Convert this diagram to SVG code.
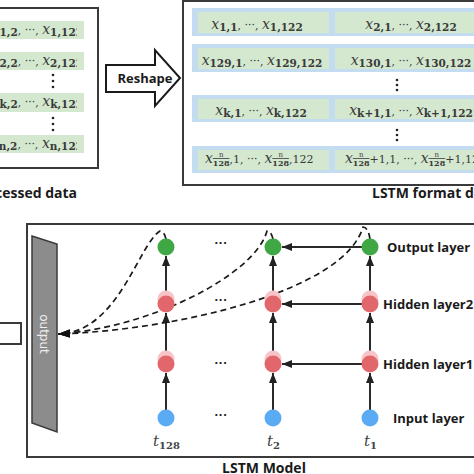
<svg xmlns="http://www.w3.org/2000/svg" width="474" height="474" viewBox="0 0 474 474">
<style>
.frame{fill:none;stroke:#3a3a3a;stroke-width:2}
.bl{fill:#c3dcef}
.gr{fill:#d3e8cf}
.m{font-family:"DejaVu Serif","Liberation Serif",serif;font-size:11px;fill:#3a3a3a}
.v{font-style:italic;font-size:14px}
.s{font-weight:bold;font-size:10.5px}
.fn{font-size:7px}
.fd{font-size:8px;font-weight:bold;text-decoration:overline}
.cap{font-family:"Open Sans","Noto Sans",sans-serif;font-weight:700;font-size:14px;fill:#1a1a1a}
.lab{font-family:"Open Sans","Noto Sans",sans-serif;font-weight:700;font-size:13px;fill:#1a1a1a}
.t{font-family:"DejaVu Serif","Liberation Serif",serif;fill:#444}
.dot{fill:#222}
.ell{font-family:"Liberation Sans",sans-serif;font-weight:bold;font-size:13px;fill:#222}
.ar{stroke:#2a2a2a;stroke-width:2;fill:none}
.da{stroke:#1a1a1a;stroke-width:1.7;fill:none;stroke-dasharray:6 4}
.g{fill:#3fa744}
.r{fill:#e2676d}
.p{fill:#f7c4c8}
.b{fill:#5aabf3}
</style>
<defs>
<marker id="ah" markerUnits="userSpaceOnUse" markerWidth="10" markerHeight="10" refX="10" refY="4" orient="auto">
<path d="M0,0 L10,4 L0,8 z" fill="#222"/>
</marker>
<marker id="ahd" markerUnits="userSpaceOnUse" markerWidth="12" markerHeight="10" refX="12" refY="4" orient="auto">
<path d="M0,0 L12,4 L0,8 z" fill="#111"/>
</marker>
<clipPath id="cl"><rect x="0" y="0" width="77" height="200"/></clipPath>
<clipPath id="c1"><rect x="198" y="0" width="126" height="200"/></clipPath>
<clipPath id="c2"><rect x="335" y="0" width="139" height="200"/></clipPath>
</defs>

<!-- Processed data box -->
<g id="processed">
<rect class="frame" x="-10" y="8" width="108" height="160"/>
<rect class="gr" x="0" y="21" width="84" height="18"/>
<rect class="gr" x="0" y="52" width="84" height="18"/>
<rect class="gr" x="0" y="93" width="84" height="19"/>
<rect class="gr" x="0" y="135" width="84" height="18"/>
<g clip-path="url(#cl)">
<text class="m" x="83" y="34" text-anchor="end"><tspan class="v">x</tspan><tspan class="s" dy="2">1,1</tspan><tspan dy="-2">, </tspan><tspan class="v">x</tspan><tspan class="s" dy="2">1,2</tspan><tspan dy="-2">, ···, </tspan><tspan class="v">x</tspan><tspan class="s" dy="2">1,122</tspan></text>
<text class="m" x="83" y="65" text-anchor="end"><tspan class="v">x</tspan><tspan class="s" dy="2">2,1</tspan><tspan dy="-2">, </tspan><tspan class="v">x</tspan><tspan class="s" dy="2">2,2</tspan><tspan dy="-2">, ···, </tspan><tspan class="v">x</tspan><tspan class="s" dy="2">2,122</tspan></text>
<text class="m" x="83" y="106" text-anchor="end"><tspan class="v">x</tspan><tspan class="s" dy="2">k,1</tspan><tspan dy="-2">, </tspan><tspan class="v">x</tspan><tspan class="s" dy="2">k,2</tspan><tspan dy="-2">, ···, </tspan><tspan class="v">x</tspan><tspan class="s" dy="2">k,122</tspan></text>
<text class="m" x="83" y="148" text-anchor="end"><tspan class="v">x</tspan><tspan class="s" dy="2">n,1</tspan><tspan dy="-2">, </tspan><tspan class="v">x</tspan><tspan class="s" dy="2">n,2</tspan><tspan dy="-2">, ···, </tspan><tspan class="v">x</tspan><tspan class="s" dy="2">n,122</tspan></text>
</g>
<circle class="dot" cx="53" cy="75" r="1.3"/><circle class="dot" cx="53" cy="81" r="1.3"/><circle class="dot" cx="53" cy="87" r="1.3"/>
<circle class="dot" cx="53" cy="118" r="1.3"/><circle class="dot" cx="53" cy="124" r="1.3"/><circle class="dot" cx="53" cy="130" r="1.3"/>
<text class="cap" x="77" y="198" text-anchor="end">Processed data</text>
</g>

<!-- Reshape arrow -->
<g id="reshape">
<polygon points="106,65 155,65 155,50 180,78 155,106 155,92 106,92" fill="#fff" stroke="#1a1a1a" stroke-width="2" stroke-linejoin="miter"/>
<text class="lab" x="145" y="83" text-anchor="middle">Reshape</text>
</g>

<!-- LSTM format data box -->
<g id="lstmformat">
<rect class="frame" x="183" y="1" width="300" height="184"/>
<rect class="bl" x="192" y="8" width="290" height="28"/>
<rect class="bl" x="192" y="44" width="290" height="28"/>
<rect class="bl" x="192" y="95" width="290" height="27"/>
<rect class="bl" x="192" y="146" width="290" height="27"/>
<rect class="gr" x="198" y="12" width="131" height="21"/><rect class="gr" x="335" y="12" width="139" height="21"/>
<rect class="gr" x="198" y="48" width="131" height="21"/><rect class="gr" x="335" y="48" width="139" height="21"/>
<rect class="gr" x="198" y="99" width="131" height="20"/><rect class="gr" x="335" y="99" width="139" height="20"/>
<rect class="gr" x="198" y="150" width="131" height="20"/><rect class="gr" x="335" y="150" width="139" height="20"/>
<text class="m" x="257" y="29" text-anchor="middle"><tspan class="v">x</tspan><tspan class="s" dy="2">1,1</tspan><tspan dy="-2">, ···, </tspan><tspan class="v">x</tspan><tspan class="s" dy="2">1,122</tspan></text>
<text class="m" x="411" y="29" text-anchor="middle"><tspan class="v">x</tspan><tspan class="s" dy="2">2,1</tspan><tspan dy="-2">, ···, </tspan><tspan class="v">x</tspan><tspan class="s" dy="2">2,122</tspan></text>
<text class="m" x="262" y="65" text-anchor="middle"><tspan class="v">x</tspan><tspan class="s" dy="2">129,1</tspan><tspan dy="-2">, ···, </tspan><tspan class="v">x</tspan><tspan class="s" dy="2">129,122</tspan></text>
<text class="m" x="411" y="65" text-anchor="middle"><tspan class="v">x</tspan><tspan class="s" dy="2">130,1</tspan><tspan dy="-2">, ···, </tspan><tspan class="v">x</tspan><tspan class="s" dy="2">130,122</tspan></text>
<text class="m" x="261" y="115" text-anchor="middle"><tspan class="v">x</tspan><tspan class="s" dy="2">k,1</tspan><tspan dy="-2">, ···, </tspan><tspan class="v">x</tspan><tspan class="s" dy="2">k,122</tspan></text>
<text class="m" x="411" y="115" text-anchor="middle"><tspan class="v">x</tspan><tspan class="s" dy="2">k+1,1</tspan><tspan dy="-2">, ···, </tspan><tspan class="v">x</tspan><tspan class="s" dy="2">k+1,122</tspan></text>
<g clip-path="url(#c1)">
<text class="m" x="205" y="163"><tspan class="v">x</tspan><tspan class="fn" dx="6" dy="-6">n</tspan><tspan class="fd" dx="-10.6" dy="9">128</tspan><tspan dy="-3">,1, ···, </tspan><tspan class="v">x</tspan><tspan class="fn" dx="6" dy="-6">n</tspan><tspan class="fd" dx="-10.6" dy="9">128</tspan><tspan dy="-3">,122</tspan></text>
</g>
<g clip-path="url(#c2)">
<text class="m" x="345" y="163"><tspan class="v">x</tspan><tspan class="fn" dx="6" dy="-6">n</tspan><tspan class="fd" dx="-10.6" dy="9">128</tspan><tspan dy="-3">+1,1, ···, </tspan><tspan class="v">x</tspan><tspan class="fn" dx="6" dy="-6">n</tspan><tspan class="fd" dx="-10.6" dy="9">128</tspan><tspan dy="-3">+1,122</tspan></text>
</g>
<circle class="dot" cx="397" cy="80" r="1.3"/><circle class="dot" cx="397" cy="85" r="1.3"/><circle class="dot" cx="397" cy="90" r="1.3"/>
<circle class="dot" cx="397" cy="130" r="1.3"/><circle class="dot" cx="397" cy="135" r="1.3"/><circle class="dot" cx="397" cy="140" r="1.3"/>
<text class="cap" x="372" y="198">LSTM format data</text>
</g>

<!-- LSTM model -->
<g id="lstmmodel">
<rect class="frame" x="27" y="224" width="460" height="233"/>
<text class="cap" x="264" y="473" text-anchor="middle">LSTM Model</text>
</g>
<g id="smallbox"><rect class="frame" x="-10" y="323" width="31" height="21"/></g>
<g id="output">
<polygon points="32,236 57,244 57,432 32,423" fill="#8c8c8c" stroke="#3a3a3a" stroke-width="1.5"/>
<text x="44" y="334" transform="rotate(90 44 334)" text-anchor="middle" dominant-baseline="central" font-family="'DejaVu Sans',sans-serif" font-size="12" fill="#eeeeee">output</text>
</g>

<!-- connectors -->
<g id="connectors">
<line class="ar" x1="166" y1="418" x2="166" y2="373" marker-end="url(#ah)"/>
<line class="ar" x1="166" y1="360" x2="166" y2="313" marker-end="url(#ah)"/>
<line class="ar" x1="166" y1="300" x2="166" y2="256" marker-end="url(#ah)"/>
<line class="ar" x1="273" y1="418" x2="273" y2="373" marker-end="url(#ah)"/>
<line class="ar" x1="273" y1="360" x2="273" y2="313" marker-end="url(#ah)"/>
<line class="ar" x1="273" y1="300" x2="273" y2="256" marker-end="url(#ah)"/>
<line class="ar" x1="370" y1="418" x2="370" y2="373" marker-end="url(#ah)"/>
<line class="ar" x1="370" y1="360" x2="370" y2="313" marker-end="url(#ah)"/>
<line class="ar" x1="370" y1="300" x2="370" y2="256" marker-end="url(#ah)"/>
<line class="ar" x1="370" y1="247" x2="282" y2="247" marker-end="url(#ah)"/>
<line class="ar" x1="370" y1="304" x2="282" y2="304" marker-end="url(#ah)"/>
<line class="ar" x1="370" y1="364" x2="282" y2="364" marker-end="url(#ah)"/>
<path class="da" d="M166,239 Q164,231 160,231 C138,245 118,333 58,334" marker-end="url(#ahd)"/>
<path class="da" d="M273,239 Q271,231 267,231 C255,275 150,328 58,334" marker-end="url(#ahd)"/>
<path class="da" d="M370,239 Q368,227 363,227 C345,290 180,330 58,334" marker-end="url(#ahd)"/>
</g>

<!-- nodes -->
<g id="t128-out"><circle class="g" cx="166" cy="247" r="8.5"/></g>
<g id="t128-h2"><circle class="p" cx="166" cy="299" r="8.5"/><circle class="r" cx="166" cy="304" r="8.5"/></g>
<g id="t128-h1"><circle class="p" cx="166" cy="359" r="8.5"/><circle class="r" cx="166" cy="364" r="8.5"/></g>
<g id="t128-in"><circle class="b" cx="166" cy="418" r="8.5"/></g>
<g id="t2-out"><circle class="g" cx="273" cy="247" r="8.5"/></g>
<g id="t2-h2"><circle class="p" cx="273" cy="299" r="8.5"/><circle class="r" cx="273" cy="304" r="8.5"/></g>
<g id="t2-h1"><circle class="p" cx="273" cy="359" r="8.5"/><circle class="r" cx="273" cy="364" r="8.5"/></g>
<g id="t2-in"><circle class="b" cx="273" cy="418" r="8.5"/></g>
<g id="t1-out"><circle class="g" cx="370" cy="247" r="8.5"/></g>
<g id="t1-h2"><circle class="p" cx="370" cy="299" r="8.5"/><circle class="r" cx="370" cy="304" r="8.5"/></g>
<g id="t1-h1"><circle class="p" cx="370" cy="359" r="8.5"/><circle class="r" cx="370" cy="364" r="8.5"/></g>
<g id="t1-in"><circle class="b" cx="370" cy="418" r="8.5"/></g>

<g id="ellipses">
<text class="ell" x="221" y="247" text-anchor="middle">···</text>
<text class="ell" x="221" y="304" text-anchor="middle">···</text>
<text class="ell" x="221" y="367" text-anchor="middle">···</text>
<text class="ell" x="221" y="419" text-anchor="middle">···</text>
</g>

<g id="labels">
<text class="lab" x="387" y="252">Output layer</text>
<text class="lab" x="383" y="309">Hidden layer2</text>
<text class="lab" x="383" y="369">Hidden layer1</text>
<text class="lab" x="393" y="423">Input layer</text>
</g>

<g id="times">
<text class="t" x="153" y="446"><tspan font-style="italic" font-size="15">t</tspan><tspan font-weight="bold" font-size="10" dy="3">128</tspan></text>
<text class="t" x="267" y="446"><tspan font-style="italic" font-size="15">t</tspan><tspan font-weight="bold" font-size="10" dy="3">2</tspan></text>
<text class="t" x="364" y="446"><tspan font-style="italic" font-size="15">t</tspan><tspan font-weight="bold" font-size="10" dy="3">1</tspan></text>
</g>
</svg>
